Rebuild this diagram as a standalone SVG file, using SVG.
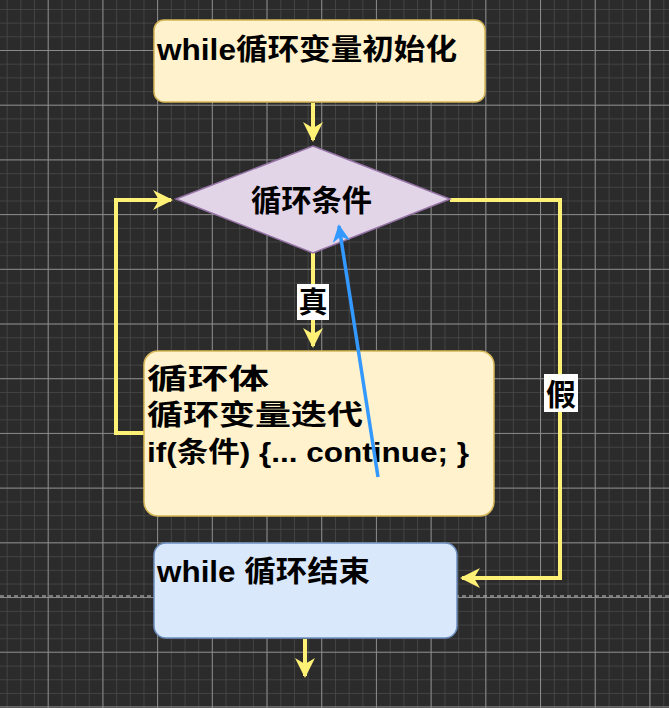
<svg xmlns="http://www.w3.org/2000/svg" width="669" height="708" viewBox="0 0 669 708">
<defs>
<pattern id="minor" x="-7" y="-4.7" width="13.68" height="13.68" patternUnits="userSpaceOnUse"><path d="M0 0H13.68M0 0V13.68" stroke="#4a4a4a" stroke-width="1.5" fill="none"/></pattern>
<pattern id="major" x="-7" y="-4.7" width="54.7" height="54.7" patternUnits="userSpaceOnUse"><path d="M0 0.5H54.7M0.5 0V54.7" stroke="#8a8a8a" stroke-width="1" fill="none"/></pattern>
<marker id="ay" viewBox="0 0 10 10" refX="9" refY="5" markerWidth="5" markerHeight="5" orient="auto"><path d="M0 0L10 5L0 10L3 5Z" fill="#fff176"/></marker>
<marker id="ab" viewBox="0 0 10 10" refX="9" refY="5" markerWidth="5" markerHeight="5" orient="auto"><path d="M0 0L10 5L0 10L3 5Z" fill="#3399ff"/></marker>
<style>
.t{font-family:"Liberation Sans","Noto Sans CJK SC",sans-serif;font-weight:bold;fill:#000}
.c{fill:none;stroke:#fff176;stroke-width:4}
.lb{fill:#fff}
</style>
</defs>
<rect width="669" height="708" fill="#2b2b2b"/>
<rect width="669" height="708" fill="url(#minor)"/>
<rect width="669" height="708" fill="url(#major)"/>
<line x1="0" y1="596" x2="669" y2="596" stroke="#cccccc" stroke-width="1.2" stroke-dasharray="4 3"/>
<g id="connectors">
<path class="c" d="M313 103V140" marker-end="url(#ay)"/>
<path class="c" d="M313 253V346" marker-end="url(#ay)"/>
<path class="c" d="M144 433H116V200H171" marker-end="url(#ay)"/>
<path class="c" d="M450 200H560V578H462" marker-end="url(#ay)"/>
<path class="c" d="M305 639V676" marker-end="url(#ay)"/>
<rect class="lb" x="297" y="284" width="32" height="36"/>
<text class="t" x="313" y="313" font-size="29" text-anchor="middle">真</text>
<rect class="lb" x="544" y="374" width="34" height="38"/>
<text class="t" x="561" y="405" font-size="30" text-anchor="middle">假</text>
</g>
<g id="init">
<rect x="154" y="20" width="331" height="82" rx="10" fill="#fff2cc" stroke="#d6b656" stroke-width="1.5"/>
<text class="t" x="157" y="60" font-size="29" textLength="300" lengthAdjust="spacingAndGlyphs">while循环变量初始化</text>
</g>
<g id="cond">
<path d="M176 199L313 146L450 199L313 253Z" fill="#e1d5e7" stroke="#9673a6" stroke-width="1.5"/>
<text class="t" x="251" y="211" font-size="30" textLength="121" lengthAdjust="spacingAndGlyphs">循环条件</text>
</g>
<g id="body">
<rect x="144" y="351" width="350" height="165" rx="14" fill="#fff2cc" stroke="#d6b656" stroke-width="1.5"/>
<text class="t" x="147" y="389" font-size="28" textLength="122" lengthAdjust="spacingAndGlyphs">循环体</text>
<text class="t" x="147" y="425" font-size="28" textLength="216" lengthAdjust="spacingAndGlyphs">循环变量迭代</text>
<text class="t" x="147" y="462" font-size="28" textLength="322" lengthAdjust="spacingAndGlyphs">if(条件) {... continue; }</text>
</g>
<g id="end">
<rect x="154" y="543" width="303" height="95" rx="12" fill="#dae8fc" stroke="#6c8ebf" stroke-width="1.5"/>
<text class="t" x="157" y="582" font-size="29" textLength="213" lengthAdjust="spacingAndGlyphs">while 循环结束</text>
</g>
<g id="blue-arrow">
<path d="M378 477L339 226" fill="none" stroke="#3399ff" stroke-width="3.5" marker-end="url(#ab)"/>
</g>
</svg>
